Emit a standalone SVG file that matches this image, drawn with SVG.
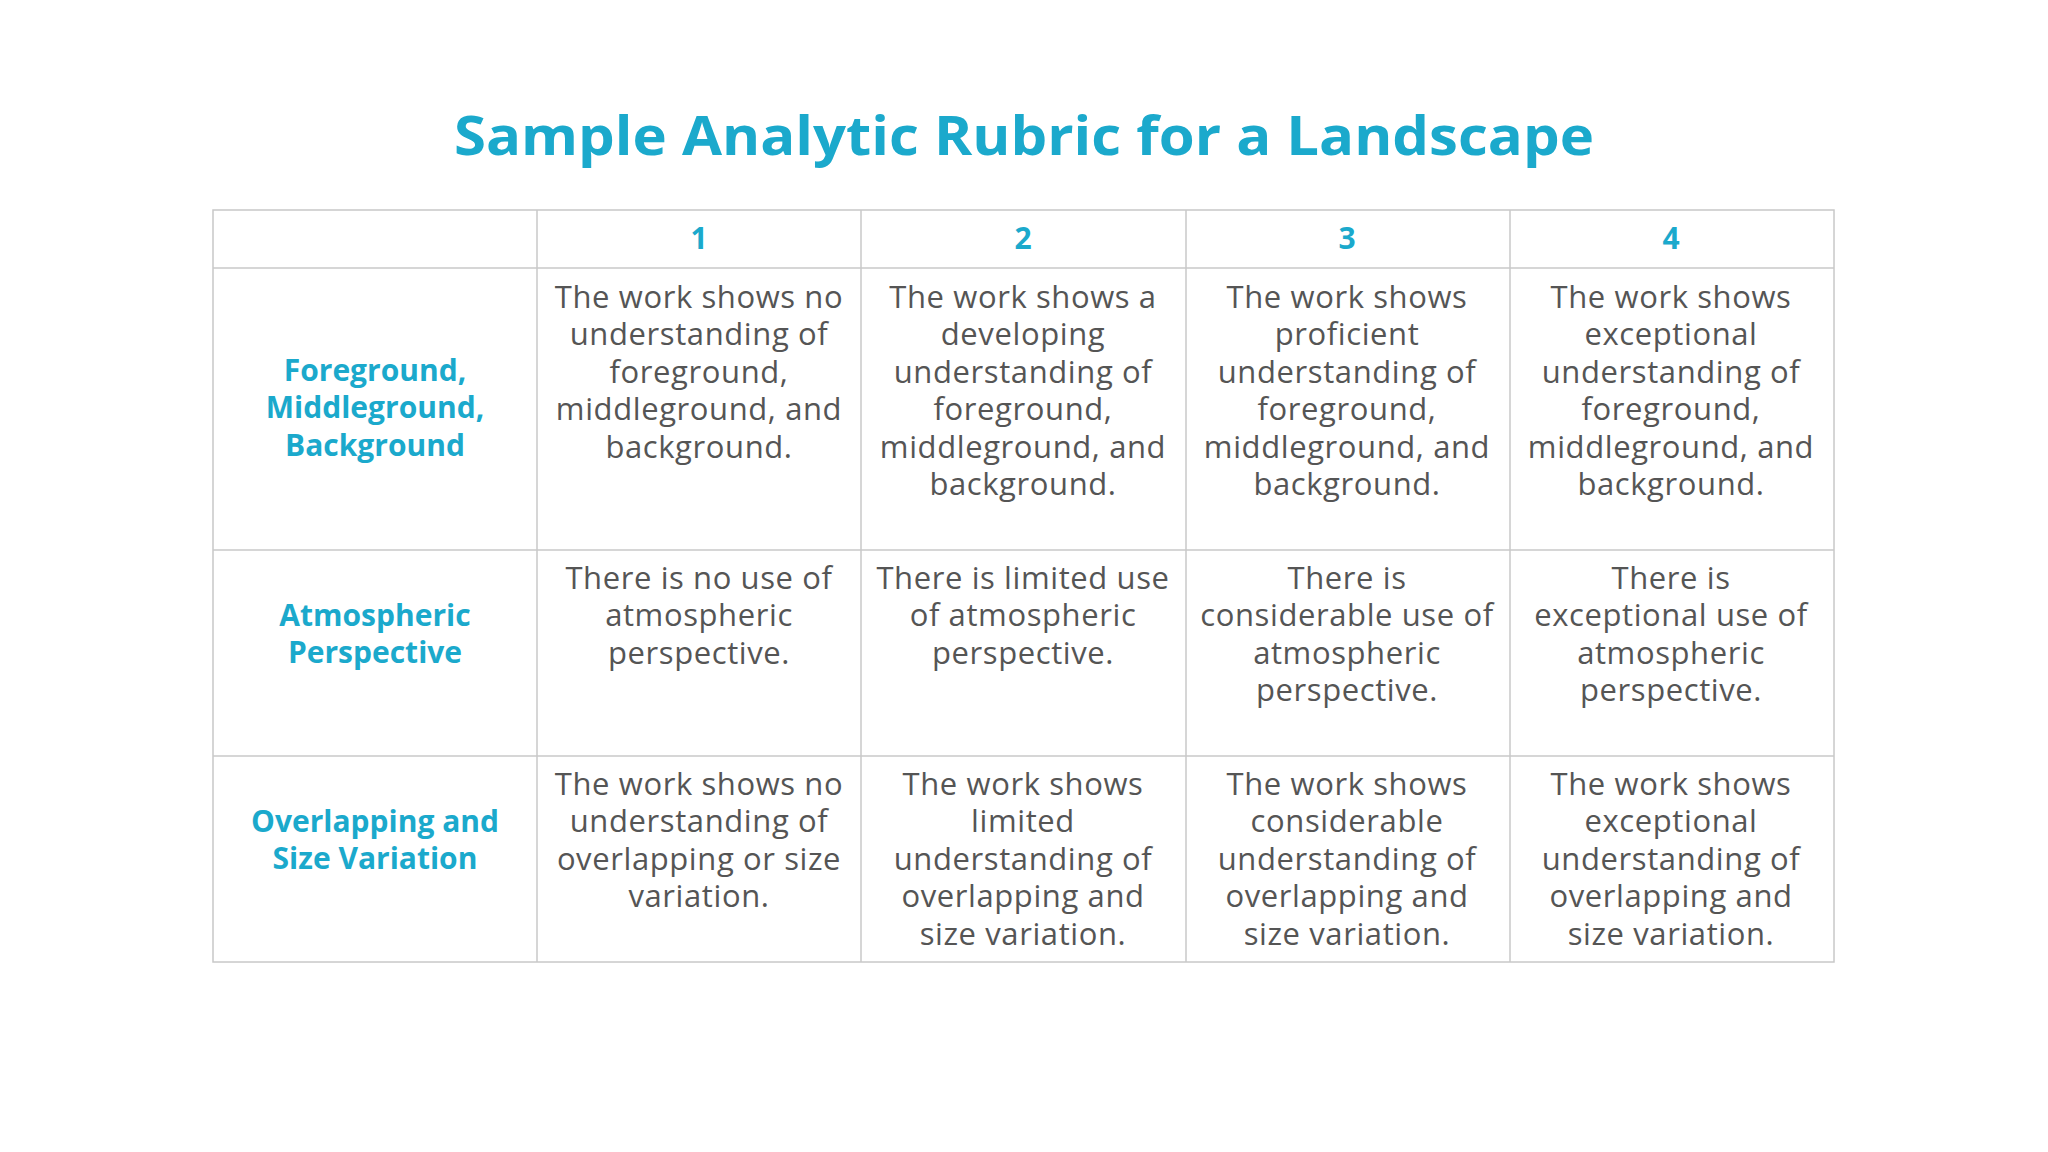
<svg xmlns="http://www.w3.org/2000/svg" width="2048" height="1152" viewBox="0 0 2048 1152">
<style>
.t{font-family:"Open Sans","Liberation Sans",sans-serif;font-size:31px;letter-spacing:0.6px;fill:#555;text-anchor:middle}
.h{font-family:"Open Sans","Liberation Sans",sans-serif;font-size:30px;font-weight:bold;fill:#1ba9cc;text-anchor:middle}
.g line{stroke:#c8c8c8;stroke-width:1.5}
</style>
<rect width="2048" height="1152" fill="#fff"/>
<text x="1024" y="155" class="h" style="font-size:54px" textLength="1140" lengthAdjust="spacingAndGlyphs">Sample Analytic Rubric for a Landscape</text>
<g class="g" id="grid">
<rect x="213" y="210" width="1621" height="752" fill="none" stroke="#c8c8c8" stroke-width="1.5"/>
<line x1="213" y1="268" x2="1834" y2="268"/><line x1="213" y1="550" x2="1834" y2="550"/><line x1="213" y1="756" x2="1834" y2="756"/>
<line x1="537" y1="210" x2="537" y2="962"/><line x1="861" y1="210" x2="861" y2="962"/><line x1="1186" y1="210" x2="1186" y2="962"/><line x1="1510" y1="210" x2="1510" y2="962"/>
</g>
<g id="header">
<text class="h" x="699" y="249">1</text><text class="h" x="1023" y="249">2</text><text class="h" x="1347" y="249">3</text><text class="h" x="1671" y="249">4</text>
</g>
<g id="labels" class="h">
<text class="h" x="375" y="381">Foreground,</text><text class="h" x="375" y="418">Middleground,</text><text class="h" x="375" y="456">Background</text>
<text class="h" x="375" y="626">Atmospheric</text><text class="h" x="375" y="663">Perspective</text>
<text class="h" x="375" y="832">Overlapping and</text><text class="h" x="375" y="869">Size Variation</text>
</g>
<g id="row1">
<text class="t" x="699" y="308"><tspan x="699">The work shows no</tspan><tspan x="699" dy="37.4">understanding of</tspan><tspan x="699" dy="37.4">foreground,</tspan><tspan x="699" dy="37.4">middleground, and</tspan><tspan x="699" dy="37.4">background.</tspan></text>
<text class="t" x="1023" y="308"><tspan x="1023">The work shows a</tspan><tspan x="1023" dy="37.4">developing</tspan><tspan x="1023" dy="37.4">understanding of</tspan><tspan x="1023" dy="37.4">foreground,</tspan><tspan x="1023" dy="37.4">middleground, and</tspan><tspan x="1023" dy="37.4">background.</tspan></text>
<text class="t" x="1347" y="308"><tspan x="1347">The work shows</tspan><tspan x="1347" dy="37.4">proficient</tspan><tspan x="1347" dy="37.4">understanding of</tspan><tspan x="1347" dy="37.4">foreground,</tspan><tspan x="1347" dy="37.4">middleground, and</tspan><tspan x="1347" dy="37.4">background.</tspan></text>
<text class="t" x="1671" y="308"><tspan x="1671">The work shows</tspan><tspan x="1671" dy="37.4">exceptional</tspan><tspan x="1671" dy="37.4">understanding of</tspan><tspan x="1671" dy="37.4">foreground,</tspan><tspan x="1671" dy="37.4">middleground, and</tspan><tspan x="1671" dy="37.4">background.</tspan></text>
</g>
<g id="row2">
<text class="t" x="699" y="589"><tspan x="699">There is no use of</tspan><tspan x="699" dy="37.4">atmospheric</tspan><tspan x="699" dy="37.4">perspective.</tspan></text>
<text class="t" x="1023" y="589"><tspan x="1023">There is limited use</tspan><tspan x="1023" dy="37.4">of atmospheric</tspan><tspan x="1023" dy="37.4">perspective.</tspan></text>
<text class="t" x="1347" y="589"><tspan x="1347">There is</tspan><tspan x="1347" dy="37.4">considerable use of</tspan><tspan x="1347" dy="37.4">atmospheric</tspan><tspan x="1347" dy="37.4">perspective.</tspan></text>
<text class="t" x="1671" y="589"><tspan x="1671">There is</tspan><tspan x="1671" dy="37.4">exceptional use of</tspan><tspan x="1671" dy="37.4">atmospheric</tspan><tspan x="1671" dy="37.4">perspective.</tspan></text>
</g>
<g id="row3">
<text class="t" x="699" y="795"><tspan x="699">The work shows no</tspan><tspan x="699" dy="37.4">understanding of</tspan><tspan x="699" dy="37.4">overlapping or size</tspan><tspan x="699" dy="37.4">variation.</tspan></text>
<text class="t" x="1023" y="795"><tspan x="1023">The work shows</tspan><tspan x="1023" dy="37.4">limited</tspan><tspan x="1023" dy="37.4">understanding of</tspan><tspan x="1023" dy="37.4">overlapping and</tspan><tspan x="1023" dy="37.4">size variation.</tspan></text>
<text class="t" x="1347" y="795"><tspan x="1347">The work shows</tspan><tspan x="1347" dy="37.4">considerable</tspan><tspan x="1347" dy="37.4">understanding of</tspan><tspan x="1347" dy="37.4">overlapping and</tspan><tspan x="1347" dy="37.4">size variation.</tspan></text>
<text class="t" x="1671" y="795"><tspan x="1671">The work shows</tspan><tspan x="1671" dy="37.4">exceptional</tspan><tspan x="1671" dy="37.4">understanding of</tspan><tspan x="1671" dy="37.4">overlapping and</tspan><tspan x="1671" dy="37.4">size variation.</tspan></text>
</g>
</svg>
